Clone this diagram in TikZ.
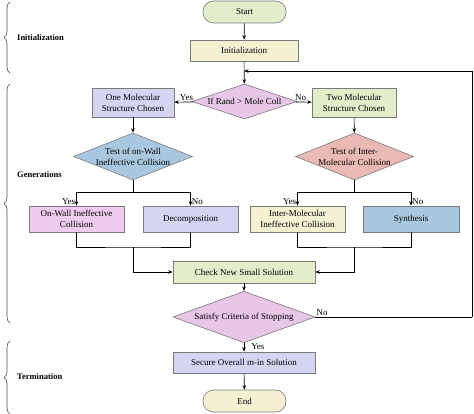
\documentclass[tikz,border=0pt]{standalone}
\usepackage{fontspec}
\setmainfont{Liberation Serif}
\usepackage{tikz}
\usetikzlibrary{shapes.geometric, arrows.meta, positioning, calc, decorations.pathreplacing}

\definecolor{cYellow}{HTML}{F4F1D3}
\definecolor{cGreen}{HTML}{E1EEC9}
\definecolor{cPink}{HTML}{E8C6E8}
\definecolor{cLilac}{HTML}{D5D5F2}
\definecolor{cBlue}{HTML}{A9C8DF}
\definecolor{cSalmon}{HTML}{E9B9B4}
\definecolor{cRose}{HTML}{EFCBEF}
\definecolor{cEdge}{HTML}{7A7A7A}

\begin{document}
\begin{tikzpicture}[x=1pt, y=-1pt,
    font=\fontsize{9}{11}\selectfont,
    box/.style={rectangle, draw=cEdge, line width=0.6pt, minimum width=#1, minimum height=21pt, inner sep=1pt, align=center},
    box/.default=142pt,
    term/.style={rectangle, rounded corners=10.5pt, draw=cEdge, line width=0.6pt, minimum width=83pt, minimum height=22pt, inner sep=1pt},
    dec/.style={diamond, draw=cEdge, line width=0.6pt, aspect=1, inner xsep=-25pt, inner ysep=-3pt, align=center},
    phase/.style={font=\fontsize{8.5}{10}\selectfont\bfseries, anchor=west, inner sep=0pt},
    lbl/.style={inner sep=1pt},
    arr/.style={-{Stealth[length=4.5pt, width=3.5pt]}, line width=0.6pt},
    ln/.style={line width=0.6pt},
    brc/.style={decorate, decoration={brace, amplitude=6pt}, line width=0.6pt, draw=black!70}]
    \useasboundingbox (0,0) rectangle (474,414);

    % phases
    \draw[brc] (10,73) -- (10,2);
    \draw[brc] (10,323) -- (10,84);
    \draw[brc] (10,414) -- (10,341);
    \node[phase] (pinit) at (17,38) {Initialization};
    \node[phase] (pgen) at (17,175) {Generations};
    \node[phase] (pterm) at (17,377) {Termination};

    % main column
    \node[term, fill=cGreen] (start) at (244.5,12) {Start};
    \node[box=108pt, fill=cYellow] (init) at (244,50.5) {Initialization};
    \coordinate (loopin) at (244,71);
    \node[dec, fill=cPink, minimum width=105pt, minimum height=35pt] (rand) at (244.5,101.5) {If Rand > Mole Coll};
    \node[box=82pt, minimum height=29pt, fill=cLilac] (one) at (133,102.5) {One Molecular\\Structure Chosen};
    \node[box=84pt, minimum height=29pt, fill=cGreen] (two) at (354,102.5) {Two Molecular\\Structure Chosen};

    \node[dec, fill=cBlue, minimum width=119pt, minimum height=47pt] (twall) at (133,156.5) {Test of on-Wall\\Ineffective Collision};
    \node[dec, fill=cSalmon, minimum width=118pt, minimum height=47pt] (tinter) at (354.5,156.5) {Test of Inter-\\Molecular Collision};

    \node[box=95pt, minimum height=26pt, fill=cRose] (onwall) at (76.5,219) {On-Wall Ineffective\\Collision};
    \node[box=95pt, minimum height=26pt, fill=cLilac] (decomp) at (190.5,219) {Decomposition};
    \node[box=95pt, minimum height=26pt, fill=cYellow] (intermol) at (297.5,219) {Inter-Molecular\\Ineffective Collision};
    \node[box=96pt, minimum height=26pt, fill=cBlue] (synth) at (411,219) {Synthesis};

    \node[box, minimum height=22pt, fill=cGreen] (check) at (244,272) {Check New Small Solution};
    \node[dec, fill=cPink, minimum width=142pt, minimum height=36pt] (stop) at (244,317) {Satisfy Criteria of Stopping};
    \node[box, fill=cLilac] (secure) at (244,362.5) {Secure Overall m-in Solution};
    \node[term, fill=cYellow] (end) at (244.5,401) {End};

    % helper points
    \coordinate (wsplit) at (133,192);
    \coordinate (isplit) at (354.5,192);
    \coordinate (wmerge) at (133,247);
    \coordinate (imerge) at (354.5,247);
    \coordinate (loopr) at (472,317);

    % connectors
    \draw[arr] (start) -- (init);
    \draw[arr] (init) -- (rand);
    \draw[arr] (rand) -- node[lbl, above, pos=0.35] (yes1) {Yes} (one);
    \draw[arr] (rand) -- node[lbl, above, pos=0.3] (no1) {No} (two);
    \draw[arr] (one) -- (twall);
    \draw[arr] (two) -- (tinter);

    \draw[ln] (twall) -- (wsplit);
    \draw[arr] (wsplit) -| node[lbl, left, pos=0.85] (yes2) {Yes} (onwall);
    \draw[arr] (wsplit) -| node[lbl, right, pos=0.85] (no2) {No} (decomp);
    \draw[ln] (tinter) -- (isplit);
    \draw[arr] (isplit) -| node[lbl, left, pos=0.85] (yes3) {Yes} (intermol);
    \draw[arr] (isplit) -| node[lbl, right, pos=0.85] (no3) {No} (synth);

    \draw[ln] (onwall) |- (wmerge) -| (decomp);
    \draw[ln] (intermol) |- (imerge) -| (synth);
    \draw[arr] (wmerge) |- (check);
    \draw[arr] (imerge) |- (check);

    \draw[arr] (check) -- (stop);
    \draw[arr] (stop) -- node[lbl, right=6pt, pos=0.4] (yes4) {Yes} (secure);
    \draw[arr] (secure) -- (end);
    \draw[ln] (stop.east) -- node[lbl, above right, pos=0] (no4) {No} (loopr);
    \draw[arr] (loopr) |- (loopin);
\end{tikzpicture}
\end{document}
